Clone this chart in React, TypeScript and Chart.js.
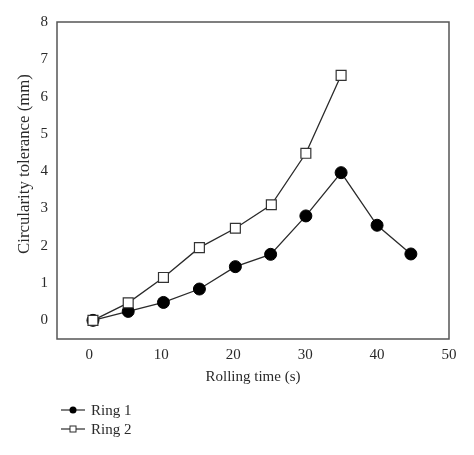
import React, { useEffect, useRef } from 'react'
import { Chart, registerables } from 'chart.js'

Chart.register(...registerables)

// values
const seriesNames = ['Ring 1', 'Ring 2']
const ring1Time = [0.5, 5.4, 10.3, 15.3, 20.3, 25.2, 30.1, 35.0, 40.0, 44.7]
const ring1Tolerance = [0, 0.24, 0.48, 0.84, 1.44, 1.77, 2.8, 3.96, 2.55, 1.78]
const ring2Time = [0.5, 5.4, 10.3, 15.3, 20.3, 25.3, 30.1, 35.0]
const ring2Tolerance = [0, 0.47, 1.15, 1.95, 2.47, 3.1, 4.48, 6.57]
const xTicks = [0, 10, 20, 30, 40, 50]
const yTicks = [0, 1, 2, 3, 4, 5, 6, 7, 8]
const xTitle = 'Rolling time (s)'
const yTitle = 'Circularity tolerance (mm)'

const FONT = "'Liberation Serif', 'DejaVu Serif', serif"
const INK = '#2a2a2a'

const toPoints = (xs: number[], ys: number[]) => xs.map((x, i) => ({ x, y: ys[i] }))

// box round the plot area
const framePlugin = {
    id: 'frame',
    beforeDatasetsDraw(chart: any) {
        const { ctx, chartArea: a } = chart
        ctx.save()
        ctx.strokeStyle = '#555'
        ctx.lineWidth = 1.5
        ctx.strokeRect(a.left, a.top, a.right - a.left, a.bottom - a.top)
        ctx.restore()
    },
}

// rotated y title and the line+marker legend under the chart
const extrasPlugin = {
    id: 'extras',
    afterDraw(chart: any) {
        const { ctx } = chart
        ctx.save()
        ctx.fillStyle = INK
        ctx.font = `16.8px ${FONT}`
        ctx.textAlign = 'center'
        ctx.textBaseline = 'middle'
        ctx.translate(25, 164)
        ctx.rotate(-Math.PI / 2)
        ctx.fillText(yTitle, 0, 0)
        ctx.restore()

        chart.data.datasets.forEach((ds: any, i: number) => {
            const y = 410 + i * 19
            ctx.save()
            ctx.strokeStyle = INK
            ctx.lineWidth = 1.2
            ctx.beginPath()
            ctx.moveTo(61, y)
            ctx.lineTo(85, y)
            ctx.stroke()
            if (ds.pointStyle === 'circle') {
                ctx.fillStyle = '#000'
                ctx.beginPath()
                ctx.arc(73, y, 3.5, 0, Math.PI * 2)
                ctx.fill()
            } else {
                ctx.fillStyle = '#fff'
                ctx.fillRect(70, y - 3, 6, 6)
                ctx.lineWidth = 1
                ctx.strokeRect(70, y - 3, 6, 6)
            }
            ctx.fillStyle = INK
            ctx.font = `15px ${FONT}`
            ctx.textAlign = 'left'
            ctx.textBaseline = 'middle'
            ctx.fillText(ds.label, 91, y + 1)
            ctx.restore()
        })
    },
}

export default function App() {
    const canvasReference = useRef<HTMLCanvasElement>(null)

    useEffect(() => {
        document.body.style.margin = '0'
        const myChart = new Chart(canvasReference.current!, {
            type: 'line',
            data: {
                datasets: [
                    {
                        label: seriesNames[0],
                        data: toPoints(ring1Time, ring1Tolerance),
                        borderColor: INK,
                        borderWidth: 1.3,
                        pointStyle: 'circle',
                        pointRadius: 6,
                        pointBackgroundColor: '#000',
                        pointBorderColor: '#000',
                        pointBorderWidth: 1,
                        order: 1,
                    },
                    {
                        label: seriesNames[1],
                        data: toPoints(ring2Time, ring2Tolerance),
                        borderColor: INK,
                        borderWidth: 1.3,
                        pointStyle: 'rect',
                        pointRadius: 7,
                        pointBackgroundColor: '#fff',
                        pointBorderColor: '#333',
                        pointBorderWidth: 1.2,
                        order: 0,
                    },
                ],
            },
            options: {
                animation: false,
                responsive: true,
                maintainAspectRatio: false,
                layout: { padding: { top: 22, right: 25, bottom: 0, left: 0 } },
                plugins: {
                    legend: { display: false },
                    tooltip: { enabled: false },
                },
                scales: {
                    x: {
                        type: 'linear',
                        min: -4.5,
                        max: 50,
                        afterBuildTicks: (s: any) => { s.ticks = xTicks.map(value => ({ value })) },
                        afterFit: (s: any) => { s.height = 116 },
                        grid: { display: false, drawTicks: false },
                        border: { display: false },
                        ticks: { font: { family: FONT, size: 15 }, color: INK, padding: 7, maxRotation: 0 },
                        title: {
                            display: true,
                            text: xTitle,
                            font: { family: FONT, size: 15 },
                            color: INK,
                            padding: { top: 0, bottom: 69 },
                        },
                    },
                    y: {
                        type: 'linear',
                        min: -0.5,
                        max: 8,
                        afterBuildTicks: (s: any) => { s.ticks = yTicks.map(value => ({ value })) },
                        afterFit: (s: any) => { s.width = 57 },
                        grid: { display: false, drawTicks: false },
                        border: { display: false },
                        ticks: { font: { family: FONT, size: 15 }, color: INK, padding: 9 },
                    },
                },
            },
            plugins: [framePlugin, extrasPlugin],
        } as any)

        return () => {
            myChart.destroy()
        }
    }, [])

    return <div style={{ width: 474, height: 455, position: 'relative' }}>
        <canvas ref={canvasReference}></canvas>
    </div>
}
